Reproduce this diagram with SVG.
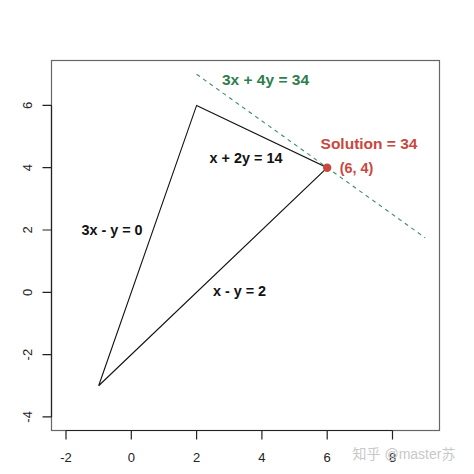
<svg xmlns="http://www.w3.org/2000/svg" width="474" height="474" viewBox="0 0 474 474">
<style>
.tick{font-family:"Liberation Sans",Arial,sans-serif;font-size:13px;fill:#222;text-anchor:middle}
.lbl{font-family:"Liberation Sans",Arial,sans-serif;font-weight:bold;font-size:14.4px;fill:#111;text-anchor:middle}
.red{fill:#C8473F}
.grn{fill:#2E7D4E}
.ax{stroke:#222;stroke-width:1.2;fill:none}
</style>
<rect width="474" height="474" fill="#fff"/>
<g id="frame">
<rect x="51.5" y="60.5" width="388" height="370" fill="none" stroke="#666" stroke-width="1.2"/>
<path class="ax" d="M51.5 105.4V416.9M51.5 105.4H42.5M51.5 167.7H42.5M51.5 230H42.5M51.5 292.3H42.5M51.5 354.6H42.5M51.5 416.9H42.5"/>
<path class="ax" d="M66 430.5H392.5M66 430.5V439.5M131.3 430.5V439.5M196.6 430.5V439.5M261.9 430.5V439.5M327.2 430.5V439.5M392.5 430.5V439.5"/>
<g class="tick">
<text x="66" y="462">-2</text><text x="131.3" y="462">0</text><text x="196.6" y="462">2</text><text x="261.9" y="462">4</text><text x="327.2" y="462">6</text><text x="392.5" y="462">8</text>
<text transform="translate(31.5,105.4) rotate(-90)">6</text>
<text transform="translate(31.5,167.7) rotate(-90)">4</text>
<text transform="translate(31.5,230) rotate(-90)">2</text>
<text transform="translate(31.5,292.3) rotate(-90)">0</text>
<text transform="translate(31.5,354.6) rotate(-90)">-2</text>
<text transform="translate(31.5,416.9) rotate(-90)">-4</text>
</g>
</g>
<g id="connectors">
<polygon points="196.6,105.4 327.2,167.7 98.65,385.75" fill="none" stroke="#111" stroke-width="1.1"/>
<line x1="196.6" y1="74.2" x2="425.2" y2="237.8" stroke="#3E8E62" stroke-width="1.1" stroke-dasharray="4,4"/>
</g>
<g id="solution-point">
<circle cx="327.2" cy="167.7" r="4.2" fill="#C8473F"/>
</g>
<g id="labels">
<text class="lbl grn" x="265.5" y="85" style="font-size:15.5px">3x + 4y = 34</text>
<text class="lbl red" x="369" y="148.5" style="font-size:15.5px">Solution = 34</text>
<text class="lbl red" x="356.5" y="172.5">(6, 4)</text>
<text class="lbl" x="246" y="162.5">x + 2y = 14</text>
<text class="lbl" x="112" y="234.5">3x - y = 0</text>
<text class="lbl" x="239.5" y="296">x - y = 2</text>
</g>
<text x="404" y="459" font-family="'Liberation Sans','Noto Sans CJK SC',sans-serif" font-size="14" fill="#c8c8c8" text-anchor="middle">知乎 @master苏</text>
</svg>
